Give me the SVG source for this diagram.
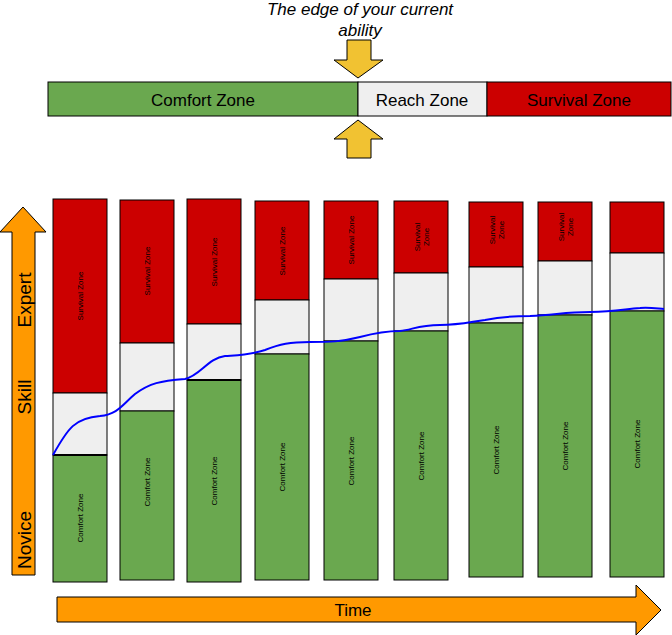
<svg xmlns="http://www.w3.org/2000/svg" width="672" height="635" viewBox="0 0 672 635">
<style>
.c{fill:#6aa84f;stroke:#000;stroke-width:1}
.r{fill:#efefef;stroke:#000;stroke-width:1}
.s{fill:#cc0000;stroke:#000;stroke-width:1}
.o{fill:#ff9900;stroke:#000;stroke-width:1}
.y{fill:#f1c232;stroke:#000;stroke-width:1}
text{font-family:"Liberation Sans",Arial,sans-serif;fill:#000}
.t{font-size:8px;text-anchor:middle}
.b{font-size:17px;text-anchor:middle}
</style>
<g id="title"><text class="b" font-style="italic" x="360" y="15">The edge of your current</text><text class="b" font-style="italic" x="360" y="36">ability</text></g>
<g id="arrows-yellow">
<path class="y" d="M347,40H371V60H383L358,78L334,60H347Z"/>
<path class="y" d="M347,158H371V139H383L358,120L334,139H347Z"/>
</g>
<g id="bar">
<rect class="c" x="48" y="82" width="310" height="34"/><text class="b" x="203" y="106">Comfort Zone</text>
<rect class="r" x="358" y="82" width="129" height="34"/><text class="b" x="422" y="106">Reach Zone</text>
<rect class="s" x="487" y="82" width="184" height="34"/><text class="b" x="579" y="106">Survival Zone</text>
</g>
<g id="skill-arrow"><path class="o" d="M12,575V232H0L23,207L46,232H35V575Z"/>
<text font-size="19" text-anchor="middle" transform="translate(31,300) rotate(-90)">Expert</text>
<text font-size="19" text-anchor="middle" transform="translate(31,397) rotate(-90)">Skill</text>
<text font-size="19" text-anchor="middle" transform="translate(31,540) rotate(-90)">Novice</text></g>
<g id="time-arrow"><path class="o" d="M57,597H636V585L661,610L636,635V622H57Z"/><text class="b" x="353" y="616">Time</text></g>
<g id="col1"><rect class="s" x="53" y="199" width="54" height="194"/><rect class="r" x="53" y="393" width="54" height="62"/><rect class="c" x="53" y="455" width="54" height="127"/><line x1="53" y1="455" x2="107" y2="455" stroke="#000" stroke-width="2"/>
<text class="t" transform="translate(83,296) rotate(-90)">Survival Zone</text><text class="t" transform="translate(83,518) rotate(-90)">Comfort Zone</text></g>
<g id="col2"><rect class="s" x="120" y="200" width="54" height="143"/><rect class="r" x="120" y="343" width="54" height="68"/><rect class="c" x="120" y="411" width="54" height="169"/>
<text class="t" transform="translate(150,271) rotate(-90)">Survival Zone</text><text class="t" transform="translate(150,482) rotate(-90)">Comfort Zone</text></g>
<g id="col3"><rect class="s" x="187" y="199" width="54" height="125"/><rect class="r" x="187" y="324" width="54" height="56"/><rect class="c" x="187" y="380" width="54" height="202"/><line x1="187" y1="380" x2="241" y2="380" stroke="#000" stroke-width="2"/>
<text class="t" transform="translate(217,262) rotate(-90)">Survival Zone</text><text class="t" transform="translate(217,481) rotate(-90)">Comfort Zone</text></g>
<g id="col4"><rect class="s" x="255" y="201" width="54" height="99"/><rect class="r" x="255" y="300" width="54" height="54"/><rect class="c" x="255" y="354" width="54" height="226"/>
<text class="t" transform="translate(285,251) rotate(-90)">Survival Zone</text><text class="t" transform="translate(285,467) rotate(-90)">Comfort Zone</text></g>
<g id="col5"><rect class="s" x="324" y="201" width="54" height="78"/><rect class="r" x="324" y="279" width="54" height="62"/><rect class="c" x="324" y="341" width="54" height="239"/>
<text class="t" transform="translate(354,240) rotate(-90)">Survival Zone</text><text class="t" transform="translate(354,461) rotate(-90)">Comfort Zone</text></g>
<g id="col6"><rect class="s" x="394" y="201" width="54" height="72"/><rect class="r" x="394" y="273" width="54" height="58"/><rect class="c" x="394" y="331" width="54" height="249"/>
<text class="t" transform="translate(420,237) rotate(-90)"><tspan x="0" dy="0">Survival</tspan><tspan x="0" dy="9">Zone</tspan></text><text class="t" transform="translate(424,456) rotate(-90)">Comfort Zone</text></g>
<g id="col7"><rect class="s" x="469" y="202" width="54" height="65"/><rect class="r" x="469" y="267" width="54" height="56"/><rect class="c" x="469" y="323" width="54" height="254"/>
<text class="t" transform="translate(495,230) rotate(-90)"><tspan x="0" dy="0">Survival</tspan><tspan x="0" dy="9">Zone</tspan></text><text class="t" transform="translate(499,450) rotate(-90)">Comfort Zone</text></g>
<g id="col8"><rect class="s" x="538" y="202" width="54" height="59"/><rect class="r" x="538" y="261" width="54" height="54"/><rect class="c" x="538" y="315" width="54" height="262"/>
<text class="t" transform="translate(564,227) rotate(-90)"><tspan x="0" dy="0">Survival</tspan><tspan x="0" dy="9">Zone</tspan></text><text class="t" transform="translate(568,446) rotate(-90)">Comfort Zone</text></g>
<g id="col9"><rect class="s" x="610" y="202" width="54" height="51"/><rect class="r" x="610" y="253" width="54" height="58"/><rect class="c" x="610" y="311" width="54" height="266"/>
<text class="t" transform="translate(640,444) rotate(-90)">Comfort Zone</text></g>
<g id="connectors"><path d="M53,455 C68,428 75,418 100,416 C118,414 122,405 135,394 C150,383 160,381 185,379 C200,376 208,358 225,356 C240,355 250,355 265,350 C280,344 290,342 310,342 C330,342 340,342 360,337 C375,333 385,331 400,331 C412,330 418,325 440,325 C460,325 470,322 485,320 C500,317 510,316 530,316 C555,315 565,312 590,312 C615,312 625,309 640,308 C650,307 660,309 664,309" fill="none" stroke="#0000ff" stroke-width="2"/></g>
</svg>
